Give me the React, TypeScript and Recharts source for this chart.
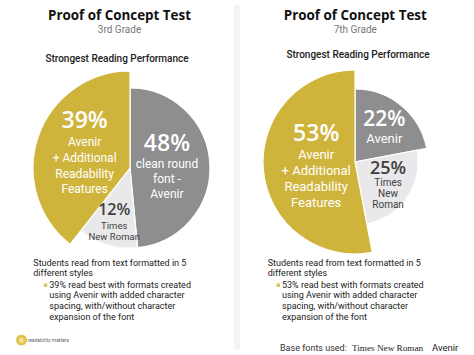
import React from "react";
import { PieChart, Pie, Cell } from "recharts";

// ---- data ----
const sliceNames = ["clean round font - Avenir", "Times New Roman", "Avenir + Additional Readability Features"];
const grade3Values = [48, 12, 39];
const grade7Values = [22, 25, 53];
const grade3LabelLines = [["clean round", "font -", "Avenir"], ["Times", "New Roman"], ["Avenir", "+ Additional", "Readability", "Features"]];
const grade7LabelLines = [["Avenir"], ["Times", "New", "Roman"], ["Avenir", "+ Additional", "Readability", "Features"]];
const panelTitles = ["Proof of Concept Test", "Proof of Concept Test"];
const panelGrades = ["3rd Grade", "7th Grade"];
const chartSubtitle = "Strongest Reading Performance";
const noteIntro = ["Students read from text formatted in 5", "different styles"];
const grade3Bullet = ["39% read best with formats created", "using Avenir with added character", "spacing, with/without character", "expansion of the font"];
const grade7Bullet = ["53% read best with formats created", "using Avenir with added character", "spacing, with/without character", "expansion of the font"];

const grade3Data = sliceNames.map((name, i) => ({ name, value: grade3Values[i] }));
const grade7Data = sliceNames.map((name, i) => ({ name, value: grade7Values[i] }));

// ---- styles ----
const GOLD = "#cfb43c";
const GRAY = "#8e8e8e";
const LIGHT = "#e9e9eb";
const DARK = "#404040";
const RADIAN = Math.PI / 180;
const SANS = "Roboto, 'Noto Sans', sans-serif";
const NUM = "'Open Sans', sans-serif";

const leftStyle = [
  { r: 37, p: 23, l: 12, gap: 17, lh: 15.3, color: "#fff" },
  { r: 56, p: 16, l: 9.5, gap: 13.5, lh: 11, color: DARK },
  { r: 48, p: 23, l: 12, gap: 18.5, lh: 15.6, color: "#fff" },
];
const rightStyle = [
  { r: 46, p: 21, l: 13, gap: 17, lh: 15.6, color: "#fff" },
  { r: 40, p: 18, l: 10, gap: 12.5, lh: 11.2, color: DARK },
  { r: 39, p: 23, l: 13, gap: 18, lh: 15.7, color: "#fff" },
];

const makeLabel = (lines: string[][], styles: any[]) => (props: any) => {
  const { cx, cy, midAngle, index, value } = props;
  const s = styles[index];
  const x = cx + s.r * Math.cos(-midAngle * RADIAN);
  const y = cy + s.r * Math.sin(-midAngle * RADIAN);
  const ls = lines[index];
  const cap = 0.72 * s.p;
  const total = cap + s.gap + s.lh * (ls.length - 1);
  const base = y - total / 2 + cap;
  return (
    <g key={`lbl-${index}`}>
      <text x={x} y={base} textAnchor="middle" fill={s.color} fontFamily={NUM} fontWeight={600} fontSize={s.p}>
        {`${value}%`}
      </text>
      {ls.map((t, i) => (
        <text key={i} x={x} y={base + s.gap + s.lh * i} textAnchor="middle" fill={s.color} fontFamily={SANS} fontSize={s.l}>
          {t}
        </text>
      ))}
    </g>
  );
};

const pieCommon = {
  dataKey: "value",
  nameKey: "name",
  startAngle: 90,
  endAngle: -270,
  isAnimationActive: false,
  labelLine: false,
};

const visCell = (i: number, shown: number[], colors: string[]) =>
  shown.includes(i) ? (
    <Cell key={i} fill={colors[i]} stroke="#fff" strokeWidth={1.2} />
  ) : (
    <Cell key={i} fill="transparent" stroke="none" />
  );

const colors = [GRAY, LIGHT, GOLD];

const Notes = ({ x, bulletX, bulletLines }: { x: number; bulletX: number; bulletLines: string[] }) => (
  <g fontFamily={SANS} fontSize={9} fill="#222">
    {noteIntro.map((t, i) => (
      <text key={i} x={x} y={265.5 + i * 10.8}>{t}</text>
    ))}
    <rect x={bulletX - 5.5} y={283.5} width={3.5} height={3.5} fill="#d9c660" />
    {bulletLines.map((t, i) => (
      <text key={`b${i}`} x={bulletX} y={287.5 + i * 10.8}>{t}</text>
    ))}
  </g>
);

export default function App() {
  return (
    <div style={{ position: "absolute", left: 0, top: 0, width: 474, height: 355, background: "#fff" }}>
      <svg width={474} height={355} style={{ position: "absolute", left: 0, top: 0 }}>
        <rect x={234} y={5} width={6} height={345} fill="#f4f4f6" />
      </svg>
      <div style={{ position: "absolute", left: 0, top: 0 }}>
        <PieChart width={474} height={355} margin={{ top: 0, right: 0, bottom: 0, left: 0 }}>
          <Pie {...pieCommon} data={grade3Data} cx={130} cy={168} outerRadius={80}>
            {grade3Data.map((_, i) => visCell(i, [0, 1], colors))}
          </Pie>
          <Pie {...pieCommon} data={grade3Data} cx={130} cy={168} outerRadius={97}>
            {grade3Data.map((_, i) => visCell(i, [2], colors))}
          </Pie>
          <Pie {...pieCommon} data={grade3Data} cx={130} cy={168} outerRadius={80} label={makeLabel(grade3LabelLines, leftStyle)}>
            {grade3Data.map((_, i) => visCell(i, [], colors))}
          </Pie>

          <Pie {...pieCommon} data={grade7Data} cx={355} cy={162} outerRadius={73}>
            {grade7Data.map((_, i) => visCell(i, [0], colors))}
          </Pie>
          <Pie {...pieCommon} data={grade7Data} cx={355} cy={162} outerRadius={63}>
            {grade7Data.map((_, i) => visCell(i, [1], colors))}
          </Pie>
          <Pie {...pieCommon} data={grade7Data} cx={355} cy={162} outerRadius={92}>
            {grade7Data.map((_, i) => visCell(i, [2], colors))}
          </Pie>
          <Pie {...pieCommon} data={grade7Data} cx={355} cy={162} outerRadius={73} label={makeLabel(grade7LabelLines, rightStyle)}>
            {grade7Data.map((_, i) => visCell(i, [], colors))}
          </Pie>
        </PieChart>
      </div>
      <svg width={474} height={355} style={{ position: "absolute", left: 0, top: 0, pointerEvents: "none" }}>
        {[119.5, 355.3].map((cx, i) => (
          <g key={i}>
            <text x={cx} y={20} textAnchor="middle" fontFamily={NUM} fontWeight={700} fontSize={13.4} fill="#111">
              {panelTitles[i]}
            </text>
            <text x={cx} y={32.5} textAnchor="middle" fontFamily={SANS} fontSize={10} fill="#777">
              {panelGrades[i]}
            </text>
          </g>
        ))}
        <text x={117} y={61.5} textAnchor="middle" fontFamily={SANS} fontWeight={500} fontSize={10} fill="#222">{chartSubtitle}</text>
        <text x={358} y={58} textAnchor="middle" fontFamily={SANS} fontWeight={500} fontSize={10} fill="#222">{chartSubtitle}</text>

        <Notes x={33.3} bulletX={49.3} bulletLines={grade3Bullet} />
        <Notes x={267.7} bulletX={282} bulletLines={grade7Bullet} />

        <text x={280} y={351} fontFamily={SANS} fontSize={9} fill="#333">Base fonts used:</text>
        <text x={352} y={351} fontFamily="'Liberation Serif', 'Times New Roman', serif" fontSize={9.2} fill="#222">Times New Roman</text>
        <text x={432} y={351} fontFamily={SANS} fontSize={9.5} fill="#222">Avenir</text>

        <circle cx={21.5} cy={340} r={5.5} fill="#e2c44c" />
        <text x={21.5} y={342.5} textAnchor="middle" fontFamily={SANS} fontSize={7} fill="#fff">R</text>
        <text x={27.5} y={342} fontFamily={SANS} fontSize={5} fill="#666">readability matters</text>
      </svg>
    </div>
  );
}
